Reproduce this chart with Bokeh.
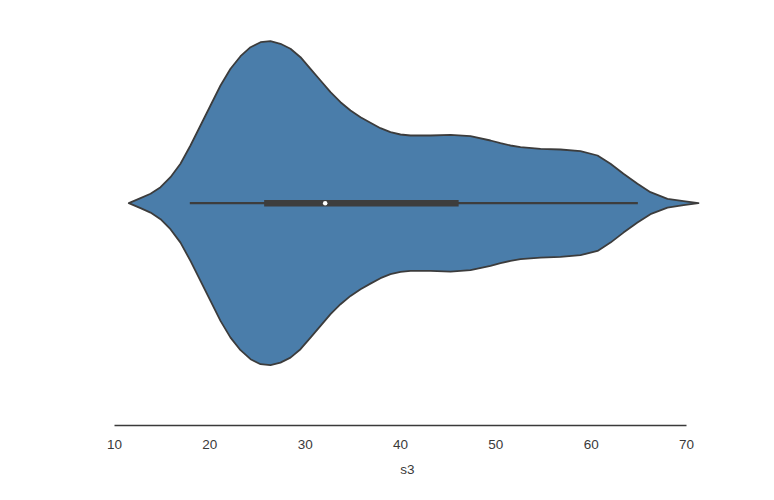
from bokeh.plotting import figure
from bokeh.models import ColumnDataSource, FixedTicker, Range1d
from bokeh.embed import file_html
from bokeh.resources import INLINE

# ---- data ----
# kernel density profile of s3 (x position, relative density)
s3_grid = [11.5, 12.73, 13.78, 14.83, 15.87, 16.92, 17.97, 19.02, 20.07, 21.12,
           22.17, 23.22, 24.27, 25.32, 26.36, 27.41, 28.46, 29.51, 30.56, 31.61,
           32.66, 33.71, 34.76, 35.81, 36.85, 37.90, 38.95, 40.00, 41.05, 43.15,
           45.25, 47.34, 49.44, 50.49, 51.54, 52.59, 54.69, 56.79, 58.88, 60.67,
           62.03, 63.39, 64.86, 66.22, 68.01, 69.69, 71.26]
s3_density = [0.0, 5.0, 9.4, 16.0, 26.0, 39.4, 57.7, 77.7, 97.7, 117.7,
              134.4, 147.0, 156.0, 161.0, 162.0, 159.4, 154.4, 146.0, 134.4, 122.7,
              111.0, 101.0, 92.7, 86.0, 80.4, 75.0, 71.0, 68.7, 67.7, 67.7,
              68.4, 67.0, 62.7, 60.0, 57.7, 56.0, 54.4, 53.7, 52.0, 47.7,
              39.4, 29.4, 19.4, 11.0, 4.4, 2.0, 0.0]

# box statistics
whisker_low = 17.9
q1 = 25.7
median = 32.1
q3 = 46.1
whisker_high = 64.9

tick_values = [10, 20, 30, 40, 50, 60, 70]

# ---- build shapes through data scales ----
max_d = max(s3_density)
half_width = 0.4
upper = [d / max_d * half_width for d in s3_density]
vx = s3_grid + s3_grid[::-1]
vy = upper + [-u for u in upper[::-1]]
violin = ColumnDataSource(dict(x=vx, y=vy))

W, H = 758, 484
p = figure(width=W, height=H, output_backend="svg", toolbar_location=None,
           x_range=Range1d(8.951, 72.52), y_range=Range1d(-0.5489, 0.4758),
           y_axis_location=None, min_border_left=104, min_border_right=48,
           min_border_top=10, min_border_bottom=59)
p.outline_line_color = None
p.grid.visible = False
p.background_fill_color = "white"
p.border_fill_color = "white"

p.patch("x", "y", source=violin, fill_color="#4a7daa", line_color="#3c3c3c",
        line_width=1.8, line_join="round")

p.segment(x0=[whisker_low], y0=[0], x1=[whisker_high], y1=[0],
          line_color="#3d3d3d", line_width=2.2)
p.segment(x0=[q1], y0=[0], x1=[q3], y1=[0],
          line_color="#3d3d3d", line_width=6.5, line_cap="butt")
p.scatter(x=[median], y=[0], size=4.5, fill_color="white", line_color=None)

ax = p.xaxis[0]
ax.ticker = FixedTicker(ticks=tick_values)
ax.bounds = (10, 70)
ax.axis_line_color = "#3a3a3a"
ax.axis_line_width = 1.3
ax.major_tick_line_color = None
ax.minor_tick_line_color = None
ax.major_label_text_font = "Liberation Sans"
ax.major_label_text_font_size = "13.5px"
ax.major_label_text_color = "#3a3a3a"
ax.major_label_standoff = 8
ax.axis_label = "s3"
ax.axis_label_text_font = "Liberation Sans"
ax.axis_label_text_font_size = "13.5px"
ax.axis_label_text_font_style = "normal"
ax.axis_label_text_color = "#3a3a3a"
ax.axis_label_standoff = 10

open("out.html", "w").write(file_html(p, INLINE))
